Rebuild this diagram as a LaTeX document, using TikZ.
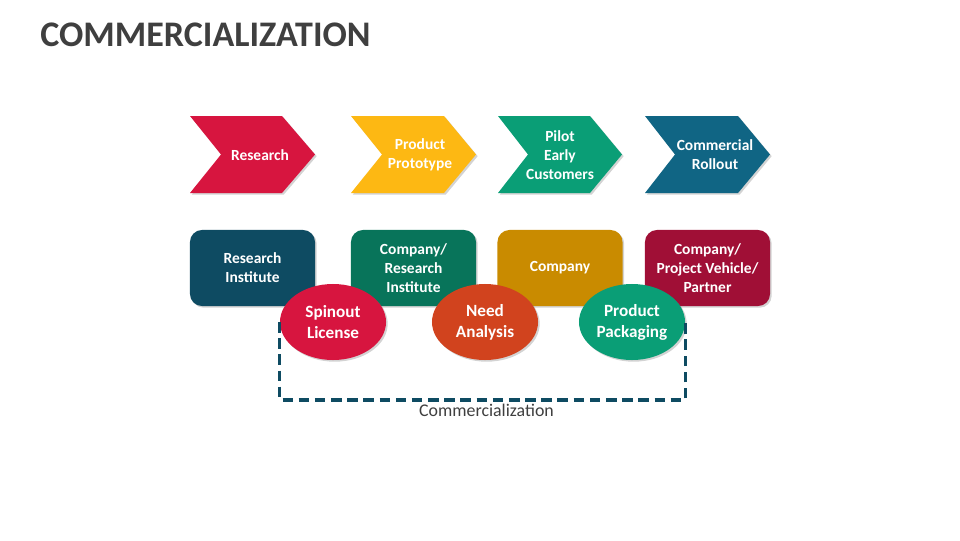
\documentclass[tikz,border=0pt]{standalone}
\usepackage{fontspec}
\setmainfont{Carlito}
\usepackage{xcolor}
\usepackage{tikz}
\usetikzlibrary{shapes.geometric, shadows}

\definecolor{resred}{HTML}{D7153F}
\definecolor{protoamber}{HTML}{FDB813}
\definecolor{pilotgreen}{HTML}{0A9E76}
\definecolor{rollblue}{HTML}{106584}
\definecolor{instteal}{HTML}{0E4B62}
\definecolor{compgreen}{HTML}{08745A}
\definecolor{compgold}{HTML}{C98B00}
\definecolor{partnerred}{HTML}{A00F36}
\definecolor{needorange}{HTML}{D1431E}
\definecolor{titlegray}{HTML}{3F3F3F}

\begin{document}
\begin{tikzpicture}[
  x=0.025cm, y=-0.025cm,
  shade/.style={drop shadow={shadow xshift=1.2pt, shadow yshift=-1.2pt,
                opacity=0.35}},
  chev/.style={shade},
  chevtxt/.style={text=white, align=center, inner sep=0pt,
                  font=\fontsize{11}{13.5}\selectfont\bfseries},
  stagebox/.style={rectangle, rounded corners=0.3cm, shade,
                   minimum width=3.125cm, minimum height=1.9cm,
                   inner sep=2pt, text=white, align=center,
                   font=\fontsize{11}{13.5}\selectfont\bfseries},
  stepoval/.style={ellipse, shade, minimum width=2.65cm,
                   minimum height=1.9cm, inner sep=0pt, text=white,
                   align=center,
                   font=\fontsize{12.2}{15}\selectfont\bfseries},
  bracket/.style={draw=instteal, line width=2.2pt,
                  dash pattern=on 7.5pt off 4pt},
]
\useasboundingbox (0,0) rectangle (960,540);

% --- Title ---
\node[anchor=base west, inner sep=0pt, text=titlegray,
      font=\fontsize{25.6}{30}\selectfont\bfseries] (title) at (40,46.5)
  {COMMERCIALIZATION};

% --- Chevrons ---
\fill[chev, resred] (190,116) -- ++(92,0) -- ++(33,38.5)
  -- ++(-33,38.5) -- ++(-92,0) -- ++(31,-38.5) -- cycle;
\node[chevtxt] (research) at (260,155) {Research};

\fill[chev, protoamber] (351,116) -- ++(93,0) -- ++(32,38.5)
  -- ++(-32,38.5) -- ++(-93,0) -- ++(31,-38.5) -- cycle;
\node[chevtxt] (proto) at (420,155) {Product\\Prototype};

\fill[chev, pilotgreen] (498,116) -- ++(92,0) -- ++(32,38.5)
  -- ++(-32,38.5) -- ++(-92,0) -- ++(30,-38.5) -- cycle;
\node[chevtxt] (pilot) at (560,155) {Pilot\\Early\\Customers};

\fill[chev, rollblue] (645,116) -- ++(93,0) -- ++(32,38.5)
  -- ++(-32,38.5) -- ++(-93,0) -- ++(30,-38.5) -- cycle;
\node[chevtxt] (rollout) at (715,155) {Commercial\\Rollout};

% --- Owners ---
\node[stagebox, fill=instteal] (inst) at (252.5,268)
  {Research\\Institute};
\node[stagebox, fill=compgreen] (compinst) at (413.5,268)
  {Company/\\Research\\Institute};
\node[stagebox, fill=compgold] (company) at (560,268)
  {\strut Company};
\node[stagebox, fill=partnerred] (partner) at (707.5,268)
  {Company/\\Project Vehicle/\\Partner};

% --- Transitions ---
\node[stepoval, fill=resred] (spinout) at (333,322)
  {Spinout\\License};
\node[stepoval, fill=needorange] (need) at (485,322)
  {Need\\Analysis};
\node[stepoval, fill=pilotgreen] (packaging) at (632,322)
  {Product\\Packaging};

% --- Bracket ---
\draw[bracket] (spinout.west) -- ++(0,78) -| (packaging.east);
\node[text=titlegray, font=\fontsize{12.7}{15}\selectfont]
  (commlabel) at (486.5,410) {Commercialization};

\end{tikzpicture}
\end{document}
